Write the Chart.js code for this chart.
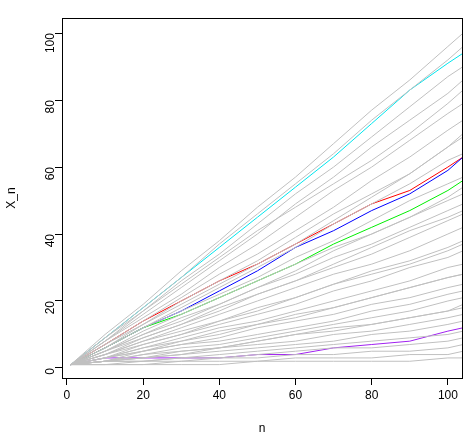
<!DOCTYPE html><html><head><script src="https://cdn.jsdelivr.net/npm/chart.js@4"></script>
<style>body{margin:0;background:#fff}</style></head><body>
<canvas id="c" width="474" height="440" style="width:474px;height:440px"></canvas>
<script>
const nGrid=[1,10,20,30,40,50,60,70,80,90,100,104];
const xTicks=[0,20,40,60,80,100];
const yTicks=[0,20,40,60,80,100];
const grayLines=[
[1,10,19,29,38,48,57,67,77,86,96,100],[1,9,18,27,37,46,55,64,74,83,92,96],
[1,9,17,26,34,43,52,60,69,78,87,90],[1,8,16,24,32,40,49,57,66,74,82,86],
[1,8,15,22,30,37,45,53,60,68,76,79],[1,7,14,21,28,34,41,48,56,63,71,74],
[1,7,13,20,26,32,39,46,52,58,66,69],[1,6,12,18,24,30,36,43,49,55,62,64],
[1,6,12,17,22,27,33,38,44,50,55,57],[1,5,11,16,21,26,31,36,40,45,50,52],
[1,5,10,15,19,24,28,33,37,42,47,49],[1,5,9,13,18,22,26,30,34,39,44,46],
[1,4,8,12,16,20,24,28,31,35,40,42],[1,4,8,11,14,18,21,25,29,32,36,38],
[1,4,7,10,13,16,19,23,26,30,33,35],[1,3,6,9,12,14,17,20,23,26,30,31],
[1,3,6,8,11,13,16,18,21,24,27,28],[1,3,5,7,9,12,14,16,19,21,24,25],
[1,3,5,7,8,10,12,14,17,19,22,23],[1,2,4,6,7,9,11,13,15,17,20,21],
[1,2,4,5,6,8,10,11,13,15,17,18],[1,2,3,4,6,7,8,10,11,13,15,16],
[1,2,3,4,5,6,7,8,10,11,13,14],[1,2,2,3,4,5,6,7,8,9,10,11],
[1,2,2,3,3,4,5,6,6,7,8,9],[1,1,2,2,3,3,4,4,5,5,6,7],
[1,1,1,2,2,2,3,3,3,4,4,5],[1,1,1,1,1,2,2,2,2,2,3,3],
[1,8,17,25,33,41,48,55,62,70,79,83],[1,6,13,19,25,31,37,44,51,58,66,70],
[1,5,10,14,19,24,29,35,40,45,51,54],[1,4,9,13,17,22,26,31,36,41,45,47],
[1,3,7,10,14,17,21,25,28,31,35,37],[1,2,5,8,10,13,15,18,21,24,27,28],
[1,2,3,5,6,8,10,12,13,15,17,19]];
const cyan=[1,9,18,27,36,45,54,63,73,83,91,94];
const red=[1,7,14,20,26,31,37,43,49,53,60,63];
const blue=[1,6,12,17,23,29,36,41,47,52,59,63];
const green=[1,6,12,16,21,26,31,37,42,47,53,56];
const purple=[1,3,3,3,3,4,4,6,7,8,11,12];
const pts=a=>a.map((v,i)=>({x:nGrid[i],y:v}));
const ds=[];
grayLines.forEach(a=>ds.push({data:pts(a),borderColor:'#c0c0c0'}));
[[cyan,'#00e5ee'],[purple,'#a020f0'],[green,'#00ee00'],[blue,'#0000ff'],[red,'#ff0000']].forEach(([a,c])=>ds.push({data:pts(a),borderColor:c}));
ds.forEach(d=>{d.borderWidth=1;d.pointRadius=0;d.tension=0;d.showLine=true;});
const box={id:'box',afterDraw(ch){const a=ch.chartArea,x=ch.ctx;x.save();x.strokeStyle='#000';x.lineWidth=1;x.strokeRect(a.left+.5,a.top+.5,a.right-a.left,a.bottom-a.top);x.restore();}};
const font={family:'Liberation Sans, Arial',size:12};
new Chart(document.getElementById('c'),{type:'scatter',data:{datasets:ds},plugins:[box],
options:{responsive:false,animation:false,layout:{padding:{top:18,right:12}},
plugins:{legend:{display:false},tooltip:{enabled:false}},
scales:{x:{min:-1.3,max:103.7,afterFit:s=>{s.height=62},afterBuildTicks:s=>{s.ticks=xTicks.map(v=>({value:v}))},
grid:{drawOnChartArea:false,tickLength:7,color:'#000'},border:{display:false},
ticks:{color:'#000',font,maxRotation:0},title:{display:true,text:'n',color:'#000',font,padding:{top:14}}},
y:{min:-3,max:104.5,afterFit:s=>{s.width=62},afterBuildTicks:s=>{s.ticks=yTicks.map(v=>({value:v}))},
grid:{drawOnChartArea:false,tickLength:7,color:'#000'},border:{display:false},
ticks:{color:'#000',font,minRotation:90,maxRotation:90,padding:4},title:{display:true,text:'X_n',color:'#000',font,padding:{bottom:10}}}}}});
</script></body></html>
